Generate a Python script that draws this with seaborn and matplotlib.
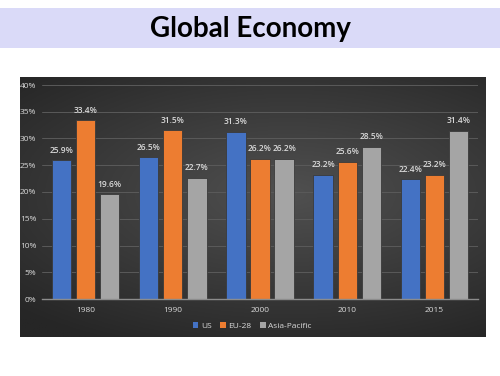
import numpy as np
import pandas as pd
import matplotlib
matplotlib.use("Agg")
import matplotlib.pyplot as plt
import seaborn as sns

years = ["1980", "1990", "2000", "2010", "2015"]
series = ["US", "EU-28", "Asia-Pacific"]
us = [25.9, 26.5, 31.3, 23.2, 22.4]
eu = [33.4, 31.5, 26.2, 25.6, 23.2]
ap = [19.6, 22.7, 26.2, 28.5, 31.4]
yticks = [0, 5, 10, 15, 20, 25, 30, 35, 40]
colors = ["#4472C4", "#ED7D31", "#A5A5A5"]

rows = []
for name, vals in zip(series, [us, eu, ap]):
    for y, v in zip(years, vals):
        rows.append({"Year": y, "Series": name, "Value": v})
df = pd.DataFrame(rows)

sns.set_theme(style="dark")
plt.rcParams['font.family'] = ['Open Sans', 'DejaVu Sans']

W, H = 500, 376
fig = plt.figure(figsize=(5, 3.76), dpi=100)
fig.patch.set_facecolor("white")

# title banner
fig.patches.append(plt.Rectangle((0, 1 - 48 / H), 1, 40 / H, transform=fig.transFigure,
                                 facecolor="#DADAF8", edgecolor="none", zorder=0))
fig.text(0.5, 1 - 29 / H, "Global Economy", ha="center", va="center",
         fontsize=20, fontweight="bold", color="black", family=["Lato", "DejaVu Sans"])

# dark panel with gradient
bg = fig.add_axes([20 / W, 1 - 337 / H, 465 / W, 260 / H])
yy, xx = np.mgrid[-1:1:200j, -1:1:300j]
r = np.sqrt(((xx - 0.15) * 0.8) ** 2 + (yy + 0.1) ** 2)
grad = np.clip(r / 1.3, 0, 1)
c0 = np.array([0x50, 0x50, 0x50]) / 255
c1 = np.array([0x26, 0x26, 0x26]) / 255
img = c0[None, None, :] * (1 - grad[..., None]) + c1[None, None, :] * grad[..., None]
bg.imshow(img, aspect="auto", extent=[0, 1, 0, 1])
bg.set_axis_off()

ax = fig.add_axes([42 / W, 1 - 299 / H, 436 / W, 214 / H])
ax.set_facecolor("none")
sns.barplot(data=df, x="Year", y="Value", hue="Series", palette=colors,
            width=0.83, gap=0.2, ax=ax, legend=True, saturation=1,
            edgecolor="#3A3A3A", linewidth=0.6)
ax.set_ylim(0, 40)
ax.set_xlim(-0.5, 4.5)
ax.set_yticks(yticks)
ax.set_yticklabels([f"{t}%" for t in yticks], fontsize=6, color="#D9D9D9")
ax.tick_params(axis="x", labelsize=6, labelcolor="#D9D9D9", pad=6, length=0)
ax.tick_params(axis="y", length=0, pad=4)
ax.set_xlabel("")
ax.set_ylabel("")
ax.grid(axis="y", color="#5A5A5A", linewidth=0.7)
ax.grid(axis="x", visible=False)
ax.set_axisbelow(True)
for s in ["top", "right", "left"]:
    ax.spines[s].set_visible(False)
ax.spines["bottom"].set_color("#8C8C8C")
ax.spines["bottom"].set_linewidth(1)

for cont in ax.containers:
    ax.bar_label(cont, labels=[f"{v:.1f}%" for v in cont.datavalues], padding=4,
                 fontsize=6, color="#D9D9D9", fontweight="semibold")

handles, labels = ax.get_legend_handles_labels()
for h in handles:
    h.set_edgecolor("none")
ax.legend(handles, labels, loc="center", bbox_to_anchor=(252 / W, 1 - 326 / H),
          bbox_transform=fig.transFigure, ncol=3, frameon=False, fontsize=6,
          labelcolor="#D9D9D9", handlelength=0.7, handleheight=0.7,
          handletextpad=0.3, columnspacing=1.0)

fig.savefig("out.png", dpi=100)
